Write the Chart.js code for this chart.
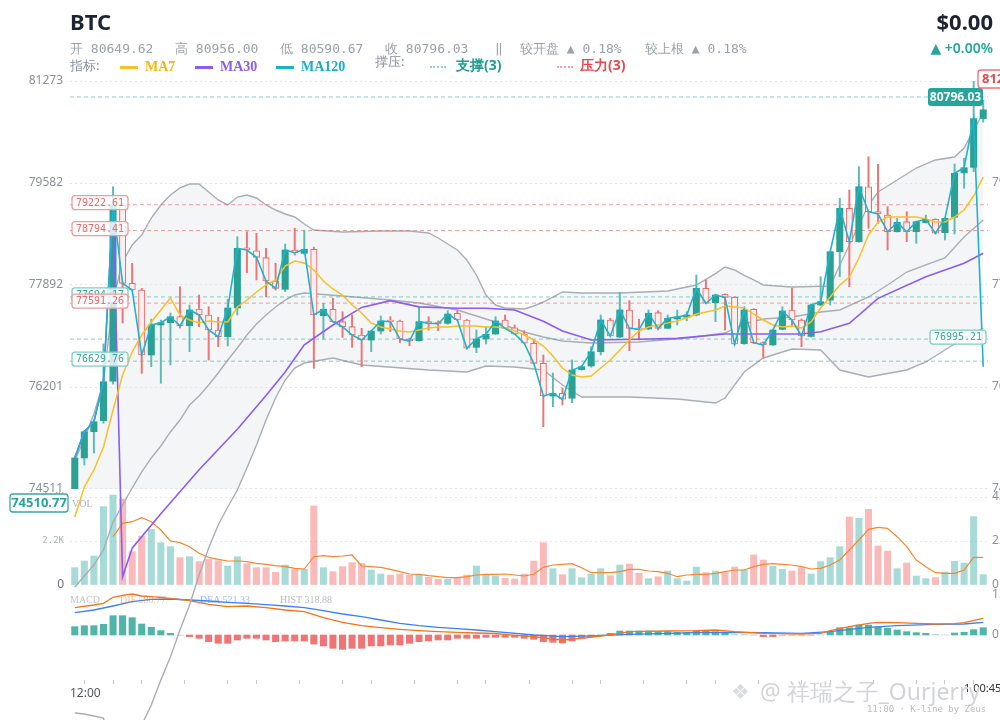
<!DOCTYPE html>
<html><head><meta charset="utf-8"><title>BTC</title>
<script src="https://cdn.jsdelivr.net/npm/chart.js@4.4.1/dist/chart.umd.min.js"></script>
<style>
html,body{margin:0;padding:0;background:#fff;}
body{width:1000px;height:720px;position:relative;overflow:hidden;font-family:"Noto Sans","DejaVu Sans",sans-serif;}
canvas{position:absolute;left:0;top:0;}
#c1{z-index:2;pointer-events:none;}
.t{position:absolute;white-space:nowrap;line-height:1;z-index:3;}
.sw{position:absolute;height:3px;width:18px;z-index:3;}
</style></head><body>
<canvas id="c2" width="1000" height="720"></canvas>
<canvas id="c1" width="1000" height="720"></canvas>
<script>
// ---------------- data ----------------
const open = [74511,75025,75460,75643,76300,79222,77920,77809,76732,77229,
77267,77370,77217,77494,77395,77146,77035,77511,78510,78460,
78345,77958,77820,78472,78417,78483,77383,77489,77284,77201,
77063,76980,77129,77312,77295,76997,76969,77284,77270,77257,
77422,77312,76859,76997,77080,77312,77184,77080,76926,76594,
76052,76097,76015,76490,76550,76786,77312,77030,77478,77174,
77163,77433,77174,77330,77357,77395,77837,77599,77738,77688,
76920,77489,76936,76898,77157,77478,77312,77040,77560,77640,
78444,79163,78610,79521,79107,79052,78775,78941,78775,78925,
78981,78759,79014,79750,79842,80649.62];
const high = [75060,75480,75640,76914,79521,79250,78251,77837,77328,77312,
77428,77864,77560,77726,77532,77357,77655,78692,78775,78749,
78500,78252,78571,78832,78800,78520,77589,77671,77449,77395,
77174,77140,77378,77367,77310,77010,77532,77367,77300,77466,
77466,77320,77146,77201,77367,77395,77229,77135,76992,76732,
76433,76185,76649,76560,76869,77395,77340,77771,77632,77324,
77478,77466,77395,77478,77449,78058,77975,77740,77745,77700,
77532,77500,76950,77160,77532,77837,77330,77580,78030,78460,
79329,79466,79853,80018,79892,79190,78997,79107,78950,79052,
78990,79010,79897,79992,81273,80956.00];
const low = [74511,74909,75107,75600,76250,77262,77790,76428,76538,76263,
76566,77179,76786,77201,76649,76869,76881,77395,78096,77975,
77698,77809,77781,78389,78400,76511,76992,77279,77025,76859,
76538,76786,77080,77118,76936,76886,76960,77146,77135,77241,
77300,76830,76770,76914,77070,77170,77075,76920,76590,75543,
75875,75903,75941,76480,76530,76732,77040,77020,76803,76980,
77150,77146,77170,77229,77300,77380,77580,77284,77146,76900,
76910,76920,76677,76890,77150,77201,76869,77030,77550,77560,
78030,77864,78600,78832,78915,78472,78770,78610,78583,78920,
78740,78638,78737,79495,79770,80590.67];
const close = [75025,75460,75626,76289,79222,77920,77809,76732,77229,77267,
77366,77217,77478,77395,77146,77035,77511,78500,78472,78351,
77958,77837,78472,78427,78483,77395,77489,77284,77201,77063,
76980,77129,77295,77284,76997,76964,77284,77257,77250,77411,
77312,76843,76997,77075,77295,77174,77080,76926,76594,76052,
76097,75998,76483,76538,76786,77312,77047,77478,77174,77157,
77423,77174,77340,77362,77395,77837,77589,77726,77688,76914,
77478,76936,76898,77146,77461,77312,77047,77560,77615,78444,
79163,78610,79521,79107,79069,78775,78931,78775,78941,78981,
78749,78997,79743,79836,80650,80796.03];
const volume = [867,1200,1450,3917,4500,4300,1667,2450,2783,2117,
1917,1367,1417,1167,1283,1217,950,1417,1067,867,
867,633,1000,783,783,3950,867,667,917,1117,
1083,750,550,500,550,500,500,383,283,283,
383,500,950,500,450,333,300,550,1200,2117,
817,517,817,367,550,817,467,1000,1050,583,
317,417,700,317,200,900,617,700,633,900,
750,1500,1250,933,783,700,867,550,1167,1367,
1917,3400,3333,3783,1950,1700,817,1100,450,317,
367,650,1183,1100,3417,517];
const volMA = [null,null,null,null,2415,3085,3165,3365,3165,2750,
2200,2115,1915,1585,1385,1285,1200,1200,1165,1085,
1035,965,915,835,800,1415,1465,1415,1450,1500,
950,915,885,785,665,550,535,465,415,365,
365,415,500,535,535,550,500,450,535,885,
1000,1035,1065,865,615,615,615,665,785,785,
700,665,585,415,500,535,535,585,665,750,
750,915,1035,1065,1035,1000,915,800,835,1000,
1250,1750,2250,2785,2885,2835,2415,1915,1250,915,
615,585,585,750,1385,1385];
const ma7 = [74047,74544,74826,75207,75820,76400,76782,77063,77279,77478,
77676,77395,77312,77262,77295,77279,77279,77527,77643,77776,
77892,77975,78207,78290,78257,78141,77958,77826,77726,77560,
77428,77262,77196,77163,77130,77113,77146,77179,77196,77196,
77212,77212,77212,77196,77196,77179,77130,77063,76980,76881,
76715,76516,76400,76367,76384,76516,76649,76815,76980,77130,
77196,77229,77262,77295,77345,77411,77444,77478,77544,77527,
77511,77411,77312,77229,77196,77212,77179,77279,77511,77693,
77892,78025,78340,78721,78936,79019,79019,79019,79019,78986,
78936,78936,79019,79135,79367,79682];
const ma120 = [75025,75460,75626,76289,79222,77920,77809,76732,77229,77267,
77366,77217,77478,77395,77146,77035,77511,78500,78472,78351,
77958,77837,78472,78427,78483,77395,77489,77284,77201,77063,
76980,77129,77295,77284,76997,76964,77284,77257,77250,77411,
77312,76843,76997,77075,77295,77174,77080,76926,76594,76052,
76097,75998,76483,76538,76786,77312,77047,77478,77174,77157,
77423,77174,77340,77362,77395,77837,77589,77726,77688,76914,
77478,76936,76898,77146,77461,77312,77047,77560,77615,78444,
79163,78610,79521,79107,79069,78775,78931,78775,78941,78981,
78749,78997,79743,79836,80650,76538];
const ma30Pts = [[0,75025],[1,75460],[2,75626],[3,76289],[4,79222],[5,73055],[6,73530],[9,74100],[13,74830],[17,75500],[20,76060],[22,76450],[24,76900],[27,77229],[30,77520],[33,77632],[36,77530],[40,77506],[43,77506],[46,77478],[49,77290],[51,77130],[54,76980],[59,76992],[63,77008],[68,77080],[76,77080],[78,77118],[81,77257],[84,77671],[89,78030],[93,78251],[95,78417]];
const bollUpPts = [[0,74976],[1,75357],[2,75754],[3,76285],[4,77643],[5,78273],[6,78555],[7,78721],[8,79002],[9,79218],[10,79384],[11,79500],[12,79566],[13,79566],[14,79433],[15,79301],[16,79218],[17,79350],[18,79384],[19,79334],[20,79218],[21,79135],[22,79069],[23,79019],[24,78903],[25,78803],[28,78770],[32,78787],[35,78787],[37,78754],[38,78671],[40,78472],[41,78306],[42,78058],[43,77726],[44,77560],[45,77511],[47,77494],[48,77544],[49,77610],[51,77776],[53,77759],[57,77759],[62,77792],[65,77892],[67,78080],[68,78190],[69,78141],[70,78050],[71,77975],[72,77892],[75,77859],[79,77875],[80,78224],[81,78555],[82,78886],[83,79218],[84,79433],[86,79632],[88,79831],[90,79964],[92,80013],[93,80163],[94,80461],[95,80743]];
const bollLowPts = [[0,70798],[1,70781],[2,70748],[3,70715],[4,70100],[5,69600],[6,69700],[7,70600],[8,70931],[9,71345],[10,71726],[11,72174],[12,72588],[13,73085],[14,73533],[15,73914],[16,74212],[17,74494],[18,74859],[19,75240],[20,75654],[21,76019],[22,76317],[23,76516],[24,76599],[27,76682],[30,76566],[37,76483],[41,76450],[43,76549],[46,76533],[49,76483],[51,76234],[53,76036],[58,76036],[63,76002],[66,75953],[67,75936],[68,76019],[70,76450],[72,76682],[75,76831],[78,76815],[80,76483],[83,76367],[87,76483],[89,76616],[91,76815],[93,77013],[95,77179]];
const bollMidPts = [[0,72887],[1,73069],[2,73251],[3,73500],[4,73963],[5,74246],[6,74527],[7,74793],[8,75025],[9,75224],[10,75456],[11,75654],[12,75903],[13,76052],[14,76234],[15,76433],[16,76649],[17,76848],[18,77063],[19,77246],[20,77395],[21,77527],[22,77643],[23,77726],[24,77759],[28,77710],[33,77643],[36,77594],[40,77478],[44,77279],[47,77113],[49,77030],[51,76964],[54,76931],[59,76947],[64,77013],[68,77096],[70,77246],[72,77329],[75,77362],[78,77445],[80,77478],[83,77693],[85,77892],[87,78107],[89,78224],[91,78340],[93,78687],[95,78969]];
const difPts = [[0,683],[2,750],[3,793],[4,943],[5,993],[6,1025],[7,975],[8,958],[10,918],[12,858],[14,768],[16,708],[18,725],[20,683],[22,625],[24,583],[26,433],[28,318],[30,233],[32,183],[34,143],[36,108],[38,83],[40,68],[42,50],[44,38],[46,-10],[48,-42],[50,-100],[51,-125],[53,-83],[55,-25],[57,43],[58,83],[62,100],[65,108],[67,125],[69,83],[72,43],[76,25],[78,43],[79,110],[81,208],[83,293],[84,318],[86,308],[88,290],[90,275],[92,285],[93,308],[95,418]];
const deaPts = [[0,558],[2,625],[4,725],[6,833],[8,893],[10,900],[12,875],[14,850],[16,818],[18,793],[20,758],[22,725],[24,683],[26,608],[28,525],[30,458],[32,375],[34,293],[36,233],[38,193],[40,158],[42,125],[44,85],[48,0],[51,-42],[55,-17],[58,17],[62,42],[65,58],[69,68],[72,58],[76,42],[79,83],[83,193],[86,233],[90,268],[93,275],[95,318]];
const hist = [208,233,233,267,483,483,433,275,192,108,
42,-10,-42,-83,-167,-208,-208,-125,-83,-83,
-125,-167,-150,-150,-150,-225,-275,-333,-358,-333,
-333,-275,-275,-250,-250,-208,-167,-150,-125,-125,
-83,-83,-83,-58,-58,-58,-58,-83,-108,-167,
-183,-200,-150,-83,-42,17,42,100,100,100,
100,83,83,67,67,100,100,83,67,17,
17,-10,-42,-42,-20,-20,-20,-20,10,83,
183,183,250,250,208,167,125,83,58,42,
17,5,50,67,133,183];
const priceTicks = [74511, 76201, 77892, 79582, 81273];
const volTicks = [0, 2200, 4400];
const volTickLabels = ['0', '2.2K', '4.4K'];
const macdTicks = [0, 1000];
const macdTickLabels = ['0', '1.0K'];
const xTickPos = [2.5,5.5,8.5,14.5,17.5,20.5,26.5,29.5,32.5,38.5,41.5,44.5,50.5,53.5,56.5,62.5,65.5,68.5,74.5,77.5,80.5,86.5,89.5,92.5];
const xLabels = ['12:00', '1 00:45'];
const supportLeft = [77694.17, 76629.76];
const supportRight = [76995.21];
const resistLeft = [79222.61, 78794.41, 77591.26];
const lastTagLevel = 81008;
const highTag = 81273;
const lowTag = 74510.77;
const macdLegend = ['MACD', 'DIF 580.77', 'DEA 521.33', 'HIST 318.88'];
const headerPrice = '$0.00';
const headerChange = '▲ +0.00%';

// ---------------- helpers ----------------
const UP = '#26a69a';
const isUp = i => close[i] >= open[i];
const pts = a => a.map(([x, y]) => ({x, y}));
const ser = a => a.map((y, x) => ({x, y}));
const lastI = close.length - 1;
Chart.defaults.font.family = '"Noto Sans", "DejaVu Sans", sans-serif';
Chart.defaults.animation = false;

function addText(txt, st) {
  const d = document.createElement('div');
  d.className = 't';
  d.textContent = txt;
  Object.assign(d.style, st);
  document.body.appendChild(d);
  return d;
}
function addBox(st) {
  const d = document.createElement('div');
  d.className = 'sw';
  Object.assign(d.style, st);
  document.body.appendChild(d);
}

// ---------------- header ----------------
addText('BTC', {left:'70px', top:'10px', fontSize:'22px', fontWeight:'700', color:'#1d2330'});
addText(headerPrice, {right:'7px', top:'10px', fontSize:'22px', fontWeight:'700', color:'#1d2330'});
const pctOpen = ((close[lastI] - open[lastI]) / open[lastI] * 100).toFixed(2);
const pctPrev = ((close[lastI] - close[lastI - 1]) / close[lastI - 1] * 100).toFixed(2);
const mono = {fontFamily:'"DejaVu Sans Mono", monospace', fontSize:'13px', color:'#9ba1a9', top:'42px'};
[['开 ' + open[lastI].toFixed(2), 70], ['高 ' + high[lastI].toFixed(2), 175], ['低 ' + low[lastI].toFixed(2), 280],
 ['收 ' + close[lastI].toFixed(2), 385], ['‖', 495], ['较开盘 ▲ ' + pctOpen + '%', 520], ['较上根 ▲ ' + pctPrev + '%', 645]]
 .forEach(([t, x]) => addText(t, Object.assign({left: x + 'px'}, mono)));
addText(headerChange, {right:'7px', top:'41px', fontSize:'14px', fontWeight:'600', color:UP});
addText('指标:', {left:'70px', top:'59px', fontSize:'13px', color:'#8a9099'});
addBox({left:'120px', top:'66px', background:'#fbbf24'});
addText('MA7', {left:'145px', top:'60px', fontSize:'14px', fontWeight:'700', fontFamily:'"Liberation Serif", serif', color:'#f5b70a'});
addBox({left:'195px', top:'66px', background:'#8b5cf6'});
addText('MA30', {left:'220px', top:'60px', fontSize:'14px', fontWeight:'700', fontFamily:'"Liberation Serif", serif', color:'#8b5cf6'});
addBox({left:'276px', top:'66px', background:'#17b3c9'});
addText('MA120', {left:'301px', top:'60px', fontSize:'14px', fontWeight:'700', fontFamily:'"Liberation Serif", serif', color:'#14b1c8'});
addText('撑压:', {left:'375px', top:'55px', fontSize:'13px', color:'#8a9099'});
addBox({left:'430px', top:'66px', width:'16px', height:'0', borderTop:'2px dotted #8fd3c9'});
addText('支撑(3)', {left:'456px', top:'58px', fontSize:'14px', fontWeight:'700', color:'#1c9d8e'});
addBox({left:'557px', top:'66px', width:'16px', height:'0', borderTop:'2px dotted #f4a0a0'});
addText('压力(3)', {left:'580px', top:'58px', fontSize:'14px', fontWeight:'700', color:'#e5484d'});

// sub-pane labels
const serif10 = {fontFamily:'"Liberation Serif", serif', fontSize:'10px', top:'595px'};
addText('VOL', {left:'72px', top:'499px', fontSize:'10px', fontFamily:'"Liberation Serif", serif', color:'#aeb2b9'});
addText(macdLegend[0], Object.assign({left:'70px', color:'#c1c5cb'}, serif10));
addText(macdLegend[1], Object.assign({left:'120px', color:'rgba(249,115,22,0.45)'}, serif10));
addText(macdLegend[2], Object.assign({left:'200px', color:'rgba(59,130,246,0.55)'}, serif10));
addText(macdLegend[3], Object.assign({left:'280px', color:'#b7bbc2'}, serif10));

// x labels & watermark
addText(xLabels[0], {left:'70px', top:'687px', fontSize:'12px', color:'#50555c'});
addText(xLabels[1], {left:'964px', top:'682px', fontSize:'11px', color:'#333'});
addText('❖', {left:'731px', top:'681px', fontSize:'21px', color:'#d9dbde'});
addText('@ 祥瑞之子_Ourjerry', {left:'760px', top:'680px', fontSize:'23px', color:'#d2d4d8'});
addText('11:00 · K-line by Zeus', {left:'867px', top:'705px', fontSize:'9px', fontFamily:'"DejaVu Sans Mono", monospace', color:'#b8bcc2'});

// right-edge tick labels (cut by the page edge, as in the reference)
function rightLabels(specs, hook) {
  return {
    id: 'rlabels',
    [hook](chart) {
      const ctx = chart.ctx;
      ctx.save();
      ctx.font = '12px "Noto Sans", sans-serif';
      ctx.fillStyle = '#8b9099';
      ctx.textAlign = 'left';
      ctx.textBaseline = 'middle';
      specs.forEach(([id, ticks, labels]) => {
        const s = chart.scales[id];
        ticks.forEach((v, k) => ctx.fillText(labels[k], chart.chartArea.right + 4, s.getPixelForValue(v)));
      });
      ctx.restore();
    }
  };
}

// ---------------- price chart (top canvas) ----------------
const srLine = (v, col) => ({type:'line', data:[{x:-0.5, y:v}, {x:95.5, y:v}], borderColor:col, borderDash:[4,3], borderWidth:1, pointRadius:0, order:80});
const lineDs = (data, col, w, ord) => ({type:'line', data, borderColor:col, borderWidth:w, pointRadius:0, tension:0, clip:false, order:ord, fill:false});

const boxPlugin = {
  id: 'tags',
  afterDatasetsDraw(chart) {
    const ctx = chart.ctx, ys = chart.scales.y;
    ctx.save();
    const box = (x, yc, w, h, txt, stroke, fill, color, font, align) => {
      ctx.beginPath();
      ctx.roundRect(x, yc - h / 2, w, h, 3);
      ctx.fillStyle = fill; ctx.fill();
      if (stroke) { ctx.strokeStyle = stroke; ctx.lineWidth = 1.3; ctx.stroke(); }
      ctx.fillStyle = color; ctx.font = font; ctx.textBaseline = 'middle';
      if (align === 'left') { ctx.textAlign = 'left'; ctx.fillText(txt, x + 4, yc + 0.5); }
      else { ctx.textAlign = 'center'; ctx.fillText(txt, x + w / 2, yc + 0.5); }
    };
    const mf = '10px "DejaVu Sans Mono", monospace';
    supportLeft.forEach(v => box(72, ys.getPixelForValue(v) - 2, 56, 14, v.toFixed(2), '#7fcdc3', 'rgba(255,255,255,0.8)', '#3aa89b', mf));
    resistLeft.forEach(v => box(72, ys.getPixelForValue(v) - 2, 56, 14, v.toFixed(2), '#f29a9a', 'rgba(255,255,255,0.8)', '#ea6b6b', mf));
    supportRight.forEach(v => box(930, ys.getPixelForValue(v) - 2, 56, 14, v.toFixed(2), '#7fcdc3', 'rgba(255,255,255,0.8)', '#3aa89b', mf));
    box(928, ys.getPixelForValue(lastTagLevel), 55, 18, close[lastI].toFixed(2), null, '#26a69a', '#fff', 'bold 12px "Noto Sans", sans-serif');
    box(978, ys.getPixelForValue(highTag) - 2, 32, 18, String(highTag), '#f07070', '#fff', '#e5484d', 'bold 13px "Noto Sans", sans-serif', 'left');
    box(10, ys.getPixelForValue(lowTag) + 14, 58, 18, lowTag.toFixed(2), '#3aa89b', '#fff', '#26a69a', 'bold 13px "Noto Sans", sans-serif');
    ctx.restore();
  }
};

new Chart(document.getElementById('c1'), {
  type: 'bar',
  data: {
    datasets: [
      Object.assign(lineDs(pts(bollUpPts), '#a9adb5', 1.4, 100), {fill:'+1', backgroundColor:'rgba(226,230,236,0.4)'}),
      lineDs(pts(bollLowPts), '#a9adb5', 1.4, 99),
      lineDs(pts(bollMidPts), '#a9adb5', 1.4, 98),
      srLine(lastTagLevel, 'rgba(38,166,154,0.55)'),
      ...supportLeft.concat(supportRight).map(v => srLine(v, 'rgba(38,166,154,0.55)')),
      ...resistLeft.map(v => srLine(v, 'rgba(239,83,80,0.55)')),
      {type:'bar', data: open.map((o, i) => ({x:i, y:[low[i], high[i]]})),
       backgroundColor: open.map((o, i) => isUp(i) ? '#5dbcb1' : '#ef7373'),
       barThickness: 1.3, grouped: false, order: 50},
      {type:'bar', data: open.map((o, i) => ({x:i, y:[o, close[i]]})),
       backgroundColor: open.map((o, i) => isUp(i) ? '#2aa193' : '#fdeeee'),
       borderColor: open.map((o, i) => isUp(i) ? '#2aa193' : '#ef6b6b'),
       borderWidth: open.map((o, i) => isUp(i) ? 0 : 1.1),
       borderSkipped: false, minBarLength: 1.5, barThickness: 6.4, grouped: false, order: 45},
      lineDs(pts(ma30Pts), '#8b5cf6', 1.6, 30),
      lineDs(ser(ma7), '#fbbf24', 1.5, 25),
      lineDs(ser(ma120), '#1eb4cf', 1.6, 20)
    ]
  },
  options: {
    responsive: false, maintainAspectRatio: false, animation: false, events: [],
    layout: {padding: {top: 81, bottom: 231, left: 0, right: 12}},
    plugins: {legend: {display: false}, tooltip: {enabled: false}},
    scales: {
      x: {type: 'linear', min: -0.5, max: 95.5, offset: false, display: false},
      y: {position: 'left', min: lowTag, max: highTag, beginAtZero: false,
          afterBuildTicks: s => { s.ticks = priceTicks.map(v => ({value: v})); },
          afterFit: s => { s.width = 70; },
          grid: {color: '#e3e5e9', drawTicks: false},
          border: {display: false, dash: [2, 3]},
          ticks: {color: '#8b9099', font: {size: 12}, padding: 7, callback: v => String(Math.round(v))}}
    }
  },
  plugins: [rightLabels([['y', priceTicks, priceTicks.map(String)]], 'beforeDatasetsDraw'), boxPlugin]
});

// ---------------- volume + MACD (bottom canvas) ----------------
new Chart(document.getElementById('c2'), {
  type: 'bar',
  data: {
    datasets: [
      {type:'bar', yAxisID:'yv', data: ser(volume),
       backgroundColor: volume.map((v, i) => isUp(i) ? 'rgba(38,166,154,0.4)' : 'rgba(239,83,80,0.4)'),
       barThickness: 6.4, grouped: false, order: 50},
      {type:'line', yAxisID:'yv', data: ser(volMA), borderColor:'#f7862f', borderWidth:1.2, pointRadius:0, tension:0, order:40},
      {type:'bar', yAxisID:'ym', data: ser(hist),
       backgroundColor: hist.map(h => h >= 0 ? (h < 30 ? 'rgba(38,166,154,0.35)' : '#4fb5a9') : (h > -30 ? 'rgba(239,83,80,0.35)' : '#f07474')),
       barThickness: 6.4, grouped: false, order: 50},
      {type:'line', yAxisID:'ym', data: pts(difPts), borderColor:'#f97316', borderWidth:1.3, pointRadius:0, tension:0, order:30},
      {type:'line', yAxisID:'ym', data: pts(deaPts), borderColor:'#3b82f6', borderWidth:1.3, pointRadius:0, tension:0, order:31}
    ]
  },
  options: {
    responsive: false, maintainAspectRatio: false, animation: false, events: [],
    layout: {padding: {top: 491, bottom: 0, left: 0, right: 12}},
    plugins: {legend: {display: false}, tooltip: {enabled: false}},
    scales: {
      x: {type: 'linear', min: -0.5, max: 95.5, offset: false, position: 'bottom',
          afterBuildTicks: s => { s.ticks = xTickPos.map(v => ({value: v})); },
          afterFit: s => { s.height = 40; },
          grid: {drawOnChartArea: false, drawTicks: true, tickLength: 4, color: '#c5c9cf'},
          border: {display: false},
          ticks: {autoSkip: false, callback: () => ''}},
      yv: {position: 'left', min: -4750, max: 4700, beginAtZero: false,
          afterBuildTicks: s => { s.ticks = volTicks.map(v => ({value: v})); },
          afterFit: s => { s.width = 70; },
          grid: {drawTicks: false, color: c => (c.tick && c.tick.value === 0) ? 'rgba(0,0,0,0)' : '#e6e8eb'},
          border: {display: false, dash: [2, 3]},
          ticks: {padding: 6,
                  color: c => (c.tick && c.tick.value === 0) ? '#6b7078' : '#aab0b8',
                  font: c => (c.tick && c.tick.value === 0) ? {size: 12} : {size: 9, family: '"DejaVu Sans Mono", monospace'},
                  callback: v => volTickLabels[volTicks.indexOf(v)]}},
      ym: {position: 'left', display: false, min: -1125, max: 3600}
    }
  },
  plugins: [rightLabels([['yv', volTicks, volTickLabels], ['ym', macdTicks, macdTickLabels]], 'afterDraw')]
});
</script>
</body></html>
